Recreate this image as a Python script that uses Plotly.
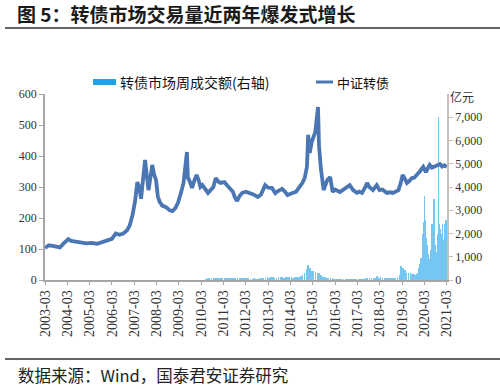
import plotly.graph_objects as go
import pandas as pd

# ---------------- data ----------------
idx_dates = ["2003-03-01","2003-05-01","2003-07-01","2003-09-01","2003-11-01","2004-01-01","2004-03-15","2004-05-01",
"2004-07-01","2004-10-01","2005-01-01","2005-04-01","2005-07-01","2005-10-01","2006-01-01","2006-03-01","2006-05-01",
"2006-07-01","2006-09-01","2006-11-01","2006-12-15","2007-02-01","2007-03-15","2007-04-20","2007-05-20","2007-06-20",
"2007-07-20","2007-08-25","2007-09-20","2007-10-20","2007-11-20","2007-12-20","2008-01-20","2008-02-20","2008-03-20",
"2008-04-20","2008-06-01","2008-08-01","2008-10-01","2008-11-15","2009-01-01","2009-02-15","2009-04-01","2009-05-15",
"2009-07-10","2009-07-25","2009-09-01","2009-10-01","2009-11-15","2009-12-15","2010-01-20","2010-02-15","2010-03-20",
"2010-05-01","2010-06-20","2010-08-01","2010-09-15","2010-10-25","2010-12-01","2011-01-10","2011-03-15","2011-05-01",
"2011-06-15","2011-08-01","2011-09-05","2011-10-10","2011-11-15","2012-01-01","2012-03-01","2012-05-01","2012-07-01",
"2012-09-10","2012-11-01","2013-01-10","2013-03-01","2013-05-01","2013-06-25","2013-08-01","2013-10-15","2013-12-01",
"2014-01-10","2014-03-01","2014-04-15","2014-06-01","2014-07-15","2014-09-10","2014-10-20","2014-11-25","2014-12-15",
"2015-01-10","2015-02-10","2015-04-10","2015-05-25","2015-06-10","2015-07-10","2015-08-25","2015-09-20","2015-10-25",
"2015-12-10","2016-01-20","2016-03-01","2016-05-15","2016-07-01","2016-08-15","2016-10-25","2016-12-20","2017-02-20",
"2017-04-01","2017-05-15","2017-07-10","2017-08-05","2017-09-10","2017-11-10","2017-12-10","2018-01-10","2018-02-25",
"2018-04-10","2018-06-25","2018-08-15","2018-10-01","2018-11-15","2019-01-01","2019-02-10","2019-03-10","2019-04-20",
"2019-05-20","2019-07-01","2019-08-10","2019-09-15","2019-11-01","2019-12-15","2020-02-10","2020-03-25","2020-04-25",
"2020-05-25","2020-07-01","2020-08-10","2020-09-20","2020-11-10","2020-12-15","2021-01-20","2021-03-01"]
idx_vals = [103,112,110,108,105,118,132,126,
123,121,118,120,117,122,127,133,150,
146,150,160,175,210,255,316,300,262,
320,387,340,290,330,371,340,323,270,
252,240,235,225,222,232,250,280,313,
413,330,315,297,325,339,320,300,306,
295,281,290,300,329,318,313,316,305,
297,285,265,255,270,281,285,281,276,
268,275,306,298,297,280,286,294,285,
274,278,281,285,297,313,330,365,468,
410,445,477,558,435,361,290,305,323,
332,284,292,284,290,296,306,290,281,
285,281,301,313,300,290,298,306,290,
292,281,283,281,285,290,315,339,325,
313,320,329,330,339,350,365,348,360,
371,362,365,370,374,366,370,365]

# monthly turnover (亿元), 2010-01 .. 2019-09
vol_month_vals = [
    0, 0, 0, 0, 40, 60, 50, 60, 70, 80, 90, 70,            # 2010
    80, 70, 60, 70, 60, 50, 50, 60, 70, 80, 60, 50,        # 2011
    50, 60, 60, 50, 40, 40, 50, 40, 40, 50, 60, 70,        # 2012
    90, 120, 100, 110, 130, 100, 90, 120, 150, 110, 100, 120,  # 2013
    110, 130, 120, 100, 110, 120, 140, 180, 220, 300, 480, 650,  # 2014
    520, 400, 380, 330, 280, 300, 200, 150, 120, 100, 80, 60,    # 2015
    50, 40, 40, 30, 30, 30, 30, 40, 30, 30, 40, 40,        # 2016
    30, 30, 30, 30, 40, 40, 50, 60, 70, 60, 70, 80,        # 2017
    170, 100, 110, 90, 80, 70, 80, 90, 80, 80, 90, 120,    # 2018
    200, 600, 500, 420, 300, 300, 280, 260, 250,           # 2019-01..09
]
# half-month turnover (亿元), 2019-10 .. 2021-03
vol_half_vals = [
    220, 250, 300, 350, 500, 700,                          # 2019-10..12
    950, 800, 2000, 2500, 3600, 2600, 1800, 1500, 1100, 900, 1300, 1000,   # 2020-01..06
    2400, 1800, 3500, 1500, 1200, 1100, 2000, 7000, 2400, 2200, 2000, 2400, # 2020-07..12
    1700, 2400, 2000, 2600, 2000, 2200,                    # 2021-01..03
]

tick_dates = [f"{y}-03-01" for y in range(2003, 2022)]
tick_labels = ["2003-03","2004-03","2005-03","2006-03","2007-03","2008-03","2009-03","2010-03","2011-03",
               "2012-03","2013-03","2014-03","2015-03","2016-03","2017-03","2018-03","2019-03","2020-03","2021-03"]

bar_name = "转债市场周成交额(右轴)"
line_name = "中证转债"

# ---------------- build ----------------
DAY = 24 * 3600 * 1000
month_dates = pd.date_range("2010-01-01", "2019-09-01", freq="MS") + pd.Timedelta(days=14)
assert len(month_dates) == len(vol_month_vals)
half_dates = []
for m in pd.date_range("2019-10-01", "2021-03-01", freq="MS"):
    half_dates += [m + pd.Timedelta(days=4), m + pd.Timedelta(days=19)]
assert len(half_dates) == len(vol_half_vals)

bar_x = list(month_dates) + half_dates
bar_y = vol_month_vals + vol_half_vals
bar_w = [10 * DAY] * len(vol_month_vals) + [7 * DAY] * len(vol_half_vals)

BAR_C = "#5CBEF2"
LINE_C = "#4A77B4"

fig = go.Figure()
fig.add_trace(go.Bar(x=bar_x, y=bar_y, width=bar_w, marker=dict(color=BAR_C, line=dict(width=0)),
                     opacity=0.85, name=bar_name, yaxis="y", showlegend=False))
fig.add_trace(go.Scatter(x=idx_dates, y=idx_vals, mode="lines", line=dict(color=LINE_C, width=3.8),
                         name=line_name, yaxis="y2", showlegend=False))

L, R, T, B = 45, 447, 94, 280
W, H = 500, 389
def px(x):
    return (x - L) / (R - L)
def py(y):
    return (B - y) / (B - T)

SERIF = "Liberation Serif, Times New Roman, serif"
num_font = dict(family=SERIF, size=12, color="#333333")
cjk = "Noto Sans CJK SC"

fig.update_layout(
    width=W, height=H,
    margin=dict(l=L, r=W - R, t=T, b=H - B, autoexpand=False),
    paper_bgcolor="white", plot_bgcolor="white",
    bargap=0,
    xaxis=dict(type="date", range=["2003-03-01", "2021-03-05"], tickvals=tick_dates, ticktext=tick_labels,
               tickangle=-90, tickfont=dict(family=SERIF, size=14, color="#333333"),
               showgrid=False, zeroline=False, showline=True, linecolor="#A6A6A6", linewidth=1.5,
               ticks="outside", ticklen=3, tickcolor="#A6A6A6", automargin=False),
    yaxis=dict(side="right", range=[0, 8000], tickvals=[0, 1000, 2000, 3000, 4000, 5000, 6000, 7000],
               tickformat=",d", tickfont=num_font, showgrid=False, zeroline=False, automargin=False,
               showline=True, linecolor="#C9C0B8", linewidth=1.5, ticks="outside", ticklen=4, tickcolor="#C9C0B8"),
    yaxis2=dict(side="left", overlaying="y", range=[0, 600], tickvals=[0, 100, 200, 300, 400, 500, 600],
                tickfont=num_font, showgrid=False, zeroline=False, automargin=False,
                showline=True, linecolor="#A6A6A6", linewidth=1.5, ticks="outside", ticklen=4, tickcolor="#A6A6A6"),
)

shapes = [
    dict(type="line", xref="paper", yref="paper", x0=px(5), x1=px(500), y0=py(28), y1=py(28),
         line=dict(color="#333333", width=1.5)),
    dict(type="line", xref="paper", yref="paper", x0=px(5), x1=px(500), y0=py(359), y1=py(359),
         line=dict(color="#333333", width=1.5)),
    # legend swatches
    dict(type="rect", xref="paper", yref="paper", x0=px(93), x1=px(116), y0=py(85), y1=py(79),
         fillcolor="#1FA3E8", line=dict(width=0)),
    dict(type="line", xref="paper", yref="paper", x0=px(316), x1=px(333), y0=py(82), y1=py(82),
         line=dict(color=LINE_C, width=3)),
]
annotations = [
    dict(text="<b>图 5：转债市场交易量近两年爆发式增长</b>", xref="paper", yref="paper", x=px(15), y=py(14),
         xanchor="left", yanchor="middle", showarrow=False, font=dict(family=cjk, size=19, color="#1A1A1A")),
    dict(text="数据来源：Wind，国泰君安证券研究", xref="paper", yref="paper", x=px(16), y=py(375),
         xanchor="left", yanchor="middle", showarrow=False, font=dict(family=cjk, size=16.5, color="#222222")),
    dict(text=bar_name, xref="paper", yref="paper", x=px(118), y=py(82), xanchor="left", yanchor="middle",
         showarrow=False, font=dict(family=cjk, size=14, color="#111111")),
    dict(text=line_name, xref="paper", yref="paper", x=px(335), y=py(82), xanchor="left", yanchor="middle",
         showarrow=False, font=dict(family=cjk, size=13, color="#111111")),
    dict(text="亿元", xref="paper", yref="paper", x=px(462), y=py(96), xanchor="center", yanchor="middle",
         showarrow=False, font=dict(family=cjk, size=12, color="#333333")),
]
fig.update_layout(shapes=shapes, annotations=annotations)

fig.write_html("out.html", config={"displayModeBar": False},
               post_script="document.body.style.margin='0';document.body.style.padding='0';")
